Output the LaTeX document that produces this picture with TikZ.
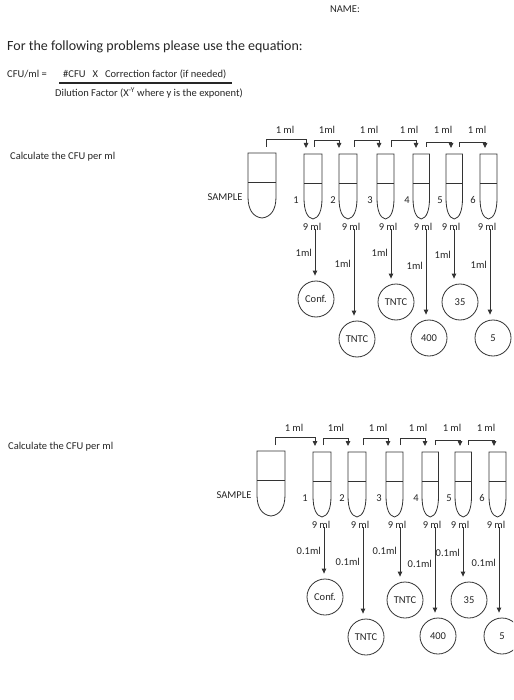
\documentclass[tikz,border=0pt]{standalone}
\usepackage{fontspec}
\setmainfont{Carlito}
\usetikzlibrary{arrows.meta,calc}
\newcommand\tubeat[4]{% name, left x, width, top y
  \node[tubebox=#3pt] (#1) at (#2,#4) {};
  \draw[ink] (#1.north west) -- ($(#1.north west)+(0,44)$)
    .. controls +(0,13) and +(-#3/3.2,-1) .. (#1.south)
    .. controls +(#3/3.2,-1) and +(0,13) .. ($(#1.north east)+(0,44)$)
    -- (#1.north east) -- cycle;
  \draw[ink] ($(#1.north west)+(0,29)$) -- ($(#1.north east)+(0,29)$);
}
\begin{document}
\begin{tikzpicture}[x=1pt,y=-1pt,
  ink/.style={draw=black!80, line width=0.8pt},
  txt/.style={text=black!85, inner sep=0pt, font=\fontsize{10.5}{12}\selectfont},
  plate/.style={circle, draw=black!80, line width=0.8pt, minimum size=36pt, inner sep=0pt, text=black!85, font=\fontsize{10.5}{12}\selectfont},
  flow/.style={draw=black!80, line width=0.8pt, -{Triangle[width=4.5pt,length=5pt]}},
  tubebox/.style={minimum width=#1, minimum height=65pt, inner sep=0pt, outer sep=0pt, anchor=north west},
]
\fill[white] (0,0) rectangle (513,700);
\useasboundingbox (0,0) rectangle (513,700);
\clip (0,0) rectangle (513,700);

% header
\node[txt] (name) at (345,9) {NAME:};
\node[anchor=west, inner sep=0pt, text=black!85, font=\fontsize{14}{16}\selectfont] (intro) at (7,47) {For the following problems please use the equation:};
\node[txt, anchor=west] (cfu) at (7,74) {CFU/ml =};
\node[txt, anchor=west] (num) at (63,74) {\#CFU\hspace{7pt}X\hspace{7pt}Correction factor (if needed)};
\coordinate (fracL) at (59,83);
\coordinate (fracR) at (232,83);
\draw[line width=1.2pt, black!85] (fracL) -- (fracR);
\node[txt, anchor=west] (den) at (55,93) {Dilution Factor (X\textsuperscript{-Y} where y is the exponent)};

\node[txt, anchor=west] (calcA) at (10,157) {Calculate the CFU per ml};
\node[txt, anchor=west] (calcB) at (8,447) {Calculate the CFU per ml};

\foreach \s/\dx/\dy/\v in {A/0/0/1ml, B/9/298/0.1ml}{
 \begin{scope}[shift={(\dx,\dy)}]
  \node[txt] (\s-lab) at (225,197) {SAMPLE};
  \tubeat{\s-s}{248}{28}{153}
  \foreach \i/\l/\w in {1/304/18, 2/339/18, 3/377/17, 4/413/16.5, 5/446/16.5, 6/480/17}{
    \tubeat{\s-t\i}{\l}{\w}{154}
  }
  \foreach \i/\x in {1/296,2/333,3/370,4/407,5/440,6/473}{
    \node[txt] (\s-n\i) at (\x,200) {\i};
  }
  \foreach \i/\a/\b/\t/\lx/\lt in {1/266/306/139/285/1 ml, 2/314/339/140/327/1ml, 3/354/379/140/369/1 ml, 4/391/416/140/409/1 ml, 5/426/451/142/443/1 ml, 6/459/485/142/477/1 ml}{
    \coordinate (\s-ba\i) at (\a,147);
    \coordinate (\s-bb\i) at (\b,148);
    \draw[flow] (\s-ba\i) -- (\s-ba\i |- 0,\t) -| (\s-bb\i);
    \node[txt] (\s-bl\i) at (\lx,130) {\lt};
  }
  \foreach \i/\ax/\ly/\cx/\cy/\ct in {1/315/253/316/299/Conf., 2/354/264/357/339/TNTC, 3/391/253/396/302/TNTC, 4/426/266/429/338/400, 5/454/255/460/302/35, 6/490/265/493/338/5}{
    \node[txt] (\s-nine\i) at (\ax-3,227) {9 ml};
    \coordinate (\s-a\i) at (\ax,229);
    \node[plate] (\s-c\i) at (\cx,\cy) {\ct};
    \draw[flow, shorten >=5pt] (\s-a\i) -- (\s-a\i |- \s-c\i.north);
    \node[txt, anchor=east] (\s-v\i) at (\ax-3,\ly) {\v};
  }
 \end{scope}
}
\end{tikzpicture}
\end{document}
